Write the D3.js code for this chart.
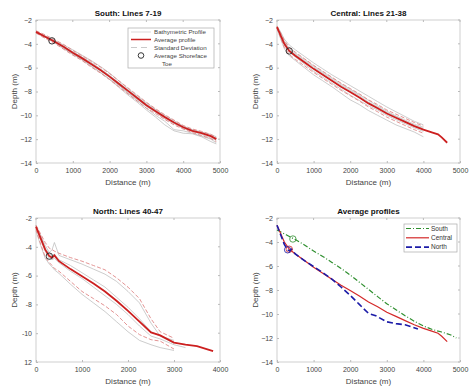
<!DOCTYPE html>
<html>
<head>
<meta charset="utf-8">
<script src="https://cdn.jsdelivr.net/npm/d3@7"></script>
<style>
  body { margin: 0; background: #fff; }
  text { font-family: "Liberation Sans", Arial, sans-serif; }
</style>
</head>
<body>
<div id="chart"></div>
<script>
var width = 474;
var height = 389;
var svg = d3.select("#chart")
    .append("svg")
    .attr("width", width)
    .attr("height", height);

// ---- South: Lines 7-19 ----
var southX = [0, 250, 500, 750, 1000, 1250, 1500, 1750, 2000, 2250, 2500, 2750, 3000, 3250, 3500, 3750, 4000, 4250, 4500, 4750, 4900];
var southAvg = [-3.0, -3.4, -3.8, -4.25, -4.75, -5.2, -5.7, -6.2, -6.75, -7.35, -7.95, -8.55, -9.15, -9.65, -10.15, -10.6, -11.0, -11.3, -11.5, -11.75, -12.0];
var southUp = [-2.9, -3.25, -3.65, -4.05, -4.55, -5.0, -5.45, -5.95, -6.5, -7.1, -7.7, -8.3, -8.9, -9.45, -9.95, -10.4, -10.85, -11.15, -11.35, -11.6, -11.85];
var southLo = [-3.1, -3.55, -3.95, -4.45, -4.95, -5.4, -5.95, -6.45, -7.0, -7.6, -8.2, -8.8, -9.4, -9.85, -10.35, -10.8, -11.15, -11.45, -11.7, -11.95, -12.2];
var southProfiles = [
  [-2.95, -3.35, -3.7, -4.1, -4.5, -4.95, -5.4, -5.9, -6.45, -7.1, -7.75, -8.35, -8.95, -9.5, -10.0, -10.45, -10.9, -11.2, -11.4, -11.6, -11.8],
  [-3.05, -3.45, -3.9, -4.4, -4.9, -5.35, -5.9, -6.4, -6.95, -7.5, -8.1, -8.65, -9.25, -9.75, -10.3, -10.7, -11.1, -11.35, -11.6, -11.9, -12.1],
  [-3.0, -3.4, -3.85, -4.3, -4.8, -5.3, -5.85, -6.4, -7.0, -7.65, -8.3, -8.9, -9.55, -10.15, -10.8, -11.3, -11.5, -11.55, -11.8, -12.2, -12.4],
  [-3.0, -3.35, -3.75, -4.2, -4.65, -5.1, -5.55, -6.1, -6.65, -7.25, -7.85, -8.45, -9.05, -9.55, -10.1, -10.55, -10.95, -11.25, -11.45, -11.7, -11.9],
  [-3.05, -3.45, -3.85, -4.35, -4.85, -5.25, -5.75, -6.25, -6.8, -7.45, -8.15, -8.75, -9.4, -10.0, -10.5, -11.2, -11.3, -11.5, -11.75, -12.0, -12.3]
];
var southToe = [434, -3.75];

// ---- Central: Lines 21-38 ----
var centralX = [0, 100, 200, 335, 500, 750, 1000, 1250, 1500, 1750, 2000, 2250, 2500, 2750, 3000, 3250, 3500, 3750, 4000, 4250, 4400, 4500, 4650];
var centralAvg = [-2.6, -3.3, -4.0, -4.6, -5.0, -5.55, -6.1, -6.6, -7.1, -7.6, -8.05, -8.5, -9.0, -9.4, -9.85, -10.2, -10.55, -10.9, -11.2, -11.45, -11.6, -11.85, -12.3];
var centralUp = [-2.5, -3.1, -3.7, -4.3, -4.7, -5.25, -5.8, -6.3, -6.8, -7.3, -7.75, -8.2, -8.7, -9.1, -9.55, -9.9, -10.25, -10.6, -10.9, null, null, null, null];
var centralLo = [-2.7, -3.5, -4.3, -4.9, -5.3, -5.85, -6.4, -6.9, -7.4, -7.9, -8.35, -8.8, -9.3, -9.7, -10.15, -10.5, -10.85, -11.2, -11.5, null, null, null, null];
var centralProfiles = [
  [-2.5, -3.0, -3.6, -4.1, -4.5, -5.05, -5.6, -6.1, -6.6, -7.05, -7.5, -7.95, -8.4, -8.85, -9.3, -9.7, -10.1, -10.5, -10.8, null, null, null, null],
  [-2.7, -3.6, -4.4, -5.0, -5.4, -6.0, -6.6, -7.1, -7.6, -8.15, -8.7, -9.1, -9.6, -10.0, -10.4, -10.8, -11.1, -11.4, -11.8, null, null, null, null],
  [-2.6, -3.2, -3.9, -4.5, -4.9, -5.4, -5.95, -6.45, -6.95, -7.45, -7.9, -8.35, -8.9, -9.3, -9.75, -10.1, -10.5, -10.85, -11.1, null, null, null, null],
  [-2.6, -3.4, -4.1, -4.7, -5.1, -5.7, -6.3, -6.8, -7.3, -7.8, -8.3, -8.75, -9.2, -9.55, -10.0, -10.35, -10.7, -11.05, -11.35, null, null, null, null],
  [-2.55, -3.1, -3.8, -4.4, -4.8, -5.3, -5.85, -6.35, -6.85, -7.35, -7.8, -8.25, -8.75, -9.2, -9.65, -10.05, -10.4, -10.75, -11.0, null, null, null, null]
];
var centralToe = [335, -4.6];

// ---- North: Lines 40-47 ----
var northX = [0, 100, 200, 290, 350, 400, 500, 750, 1000, 1250, 1500, 1750, 2000, 2250, 2500, 2700, 3000, 3250, 3500, 3850];
var northAvg = [-2.6, -3.4, -4.2, -4.65, -4.75, -4.6, -5.0, -5.55, -6.05, -6.55, -7.1, -7.75, -8.45, -9.2, -9.95, -10.15, -10.65, -10.8, -10.9, -11.25];
var northUp = [-2.5, -3.1, -3.7, -4.1, -4.2, -4.3, -4.45, -4.75, -5.0, -5.3, -5.6, -6.15, -6.8, -7.6, -9.0, -9.9, -10.35, null, null, null];
var northLo = [-2.8, -3.8, -4.7, -5.1, -5.3, -5.5, -5.7, -6.4, -7.1, -7.6, -8.1, -8.7, -9.5, -10.1, -10.45, -10.55, -11.1, null, null, null];
var northProfiles = [
  [-2.6, -3.2, -3.9, -4.4, -4.2, -3.7, -4.6, -4.9, -5.2, -5.55, -5.9, -6.4, -7.1, -7.9, -9.3, -10.2, -10.5, null, null, null],
  [-2.9, -3.9, -4.8, -5.2, -5.4, -5.6, -5.85, -6.6, -7.3, -7.9, -8.5, -9.2, -9.9, -10.5, -10.8, -11.0, -11.2, null, null, null],
  [-2.7, -3.5, -4.3, -4.8, -4.9, -4.8, -5.1, -5.7, -6.2, -6.8, -7.4, -8.0, -8.7, -9.5, -10.2, -10.4, -10.8, -11.0, null, null],
  [-2.5, -3.3, -4.1, -4.5, -4.6, -4.5, -4.9, -5.3, -5.8, -6.3, -6.8, -7.5, -8.2, -9.0, -9.9, -10.2, -10.7, null, null, null]
];
var northToe = [290, -4.65];

var depthTicks = [-2, -4, -6, -8, -10, -12, -14];
var northDepthTicks = [-2, -4, -6, -8, -10, -12];

var legendKeys = ["Bathymetric Profile", "Average profile", "Standard Deviation", "Average Shoreface", "Toe"];
var avgKeys = ["South", "Central", "North"];

function zip(xs, ys) {
  return xs.map(function(x, i) { return [x, ys[i]]; });
}

function panel(opt) {
  var g = svg.append("g");
  var x = d3.scaleLinear().domain([0, opt.xmax]).range([opt.left, opt.right]);
  var y = d3.scaleLinear().domain([opt.ymin, -2]).range([opt.bottom, opt.top]);

  // box
  g.append("rect")
    .attr("x", opt.left).attr("y", opt.top)
    .attr("width", opt.right - opt.left).attr("height", opt.bottom - opt.top)
    .attr("fill", "none").attr("stroke", "#c4c4c4").attr("stroke-width", 0.8);

  var xt = d3.range(0, opt.xmax + 1, 1000);
  g.append("g")
    .attr("transform", "translate(0," + opt.bottom + ")")
    .call(d3.axisBottom(x).tickValues(xt).tickSize(-2).tickPadding(5).tickFormat(d3.format("d")))
    .call(function(a) {
      a.select(".domain").remove();
      a.selectAll("line").attr("stroke", "#bbb");
      a.selectAll("text").attr("fill", "#444").style("font-size", "7px");
    });
  g.append("g")
    .attr("transform", "translate(" + opt.left + ",0)")
    .call(d3.axisLeft(y).tickValues(opt.yticks).tickSize(-2).tickPadding(4).tickFormat(opt.yfmt || d3.format("d")))
    .call(function(a) {
      a.select(".domain").remove();
      a.selectAll("line").attr("stroke", "#bbb");
      a.selectAll("text").attr("fill", "#444").style("font-size", "7px");
    });
  // ticks on top and right sides
  g.selectAll(".tt").data(xt).enter().append("line")
    .attr("x1", function(d) { return x(d); }).attr("x2", function(d) { return x(d); })
    .attr("y1", opt.top).attr("y2", opt.top + 2).attr("stroke", "#bbb");
  g.selectAll(".rt").data(opt.yticks).enter().append("line")
    .attr("y1", function(d) { return y(d); }).attr("y2", function(d) { return y(d); })
    .attr("x1", opt.right).attr("x2", opt.right - 2).attr("stroke", "#bbb");

  g.append("text")
    .attr("x", (opt.left + opt.right) / 2).attr("y", opt.top - 4)
    .attr("text-anchor", "middle").style("font-size", "8px").style("font-weight", "bold")
    .attr("fill", "#111").text(opt.title);
  g.append("text")
    .attr("x", (opt.left + opt.right) / 2).attr("y", opt.bottom + 22)
    .attr("text-anchor", "middle").style("font-size", "8px").attr("fill", "#444")
    .text("Distance (m)");
  g.append("text")
    .attr("transform", "translate(" + (opt.left - 19) + "," + ((opt.top + opt.bottom) / 2) + ") rotate(-90)")
    .attr("text-anchor", "middle").style("font-size", "8px").attr("fill", "#444")
    .text("Depth (m)");

  var line = d3.line()
    .defined(function(d) { return d[1] !== null; })
    .x(function(d) { return x(d[0]); })
    .y(function(d) { return y(d[1]); });

  return { g: g, x: x, y: y, line: line };
}

function profilePanel(opt, xs, avg, up, lo, profiles, toe) {
  var p = panel(opt);
  profiles.forEach(function(pr) {
    p.g.append("path").datum(zip(xs, pr))
      .attr("fill", "none").attr("stroke", "#b8b8b8").attr("stroke-width", 0.7)
      .attr("d", p.line);
  });
  [up, lo].forEach(function(s) {
    p.g.append("path").datum(zip(xs, s))
      .attr("fill", "none").attr("stroke", "#e08888").attr("stroke-width", 0.9)
      .attr("stroke-dasharray", "4,2").attr("d", p.line);
  });
  p.g.append("path").datum(zip(xs, avg))
    .attr("fill", "none").attr("stroke", "#cc1f1f").attr("stroke-width", 1.8)
    .attr("d", p.line);
  p.g.append("circle")
    .attr("cx", p.x(toe[0])).attr("cy", p.y(toe[1])).attr("r", 3.2)
    .attr("fill", "none").attr("stroke", "#222").attr("stroke-width", 0.9);
  return p;
}

var p1 = profilePanel({ left: 36, right: 220, top: 20, bottom: 163, xmax: 5000, ymin: -14, yticks: depthTicks, title: "South: Lines 7-19" },
  southX, southAvg, southUp, southLo, southProfiles, southToe);
profilePanel({ left: 277, right: 460, top: 20, bottom: 163, xmax: 5000, ymin: -14, yticks: depthTicks, title: "Central: Lines 21-38" },
  centralX, centralAvg, centralUp, centralLo, centralProfiles, centralToe);
profilePanel({ left: 36, right: 220, top: 218, bottom: 362, xmax: 4000, ymin: -12, yticks: northDepthTicks, title: "North: Lines 40-47",
  yfmt: function(d) { return d === -12 ? "12" : d; } },
  northX, northAvg, northUp, northLo, northProfiles, northToe);

// legend, first panel
var lg = p1.g.append("g");
lg.append("rect").attr("x", 128).attr("y", 28).attr("width", 86).attr("height", 40)
  .attr("fill", "#fff").attr("stroke", "#aaa").attr("stroke-width", 0.7);
var ly = [32, 39.5, 47.5, 55.5, 63.5];
legendKeys.forEach(function(k, i) {
  lg.append("text").attr("x", i === 4 ? 162 : 154).attr("y", ly[i] + 2.2)
    .style("font-size", "6.2px").attr("fill", "#444").text(k);
});
lg.append("line").attr("x1", 131).attr("x2", 151).attr("y1", ly[0]).attr("y2", ly[0])
  .attr("stroke", "#c8c8c8").attr("stroke-width", 0.7);
lg.append("line").attr("x1", 131).attr("x2", 151).attr("y1", ly[1]).attr("y2", ly[1])
  .attr("stroke", "#cc1f1f").attr("stroke-width", 1.5);
lg.append("line").attr("x1", 131).attr("x2", 151).attr("y1", ly[2]).attr("y2", ly[2])
  .attr("stroke", "#bbb").attr("stroke-width", 0.8).attr("stroke-dasharray", "6,4");
lg.append("circle").attr("cx", 141).attr("cy", ly[3]).attr("r", 2.8)
  .attr("fill", "none").attr("stroke", "#222").attr("stroke-width", 0.9);

// ---- Average profiles ----
var p4 = panel({ left: 277, right: 460, top: 218, bottom: 362, xmax: 5000, ymin: -14, yticks: depthTicks, title: "Average profiles" });
var avgStyles = [
  { xs: southX, ys: southAvg, color: "#2f8f2f", dash: "5,2,1,2", w: 1.2, toe: southToe },
  { xs: centralX, ys: centralAvg, color: "#d42a2a", dash: null, w: 1.2, toe: centralToe },
  { xs: northX, ys: northAvg, color: "#1c1ca8", dash: "6,3", w: 1.6, toe: northToe }
];
avgStyles.forEach(function(s) {
  p4.g.append("path").datum(zip(s.xs, s.ys))
    .attr("fill", "none").attr("stroke", s.color).attr("stroke-width", s.w)
    .attr("stroke-dasharray", s.dash).attr("d", p4.line);
});
avgStyles.forEach(function(s) {
  p4.g.append("circle").attr("cx", p4.x(s.toe[0])).attr("cy", p4.y(s.toe[1])).attr("r", 3.2)
    .attr("fill", "none").attr("stroke", s.color).attr("stroke-opacity", 0.8).attr("stroke-width", 1);
});
var lg4 = p4.g.append("g");
lg4.append("rect").attr("x", 404).attr("y", 224).attr("width", 53).attr("height", 28)
  .attr("fill", "#fff").attr("stroke", "#aaa").attr("stroke-width", 0.7);
avgKeys.forEach(function(k, i) {
  var yy = 228.5 + i * 9.3;
  var s = avgStyles[i];
  lg4.append("line").attr("x1", 406).attr("x2", 429).attr("y1", yy).attr("y2", yy)
    .attr("stroke", s.color).attr("stroke-width", s.w).attr("stroke-dasharray", s.dash);
  lg4.append("text").attr("x", 431).attr("y", yy + 2.3)
    .style("font-size", "6.5px").attr("fill", "#333").text(k);
});
</script>
</body>
</html>
